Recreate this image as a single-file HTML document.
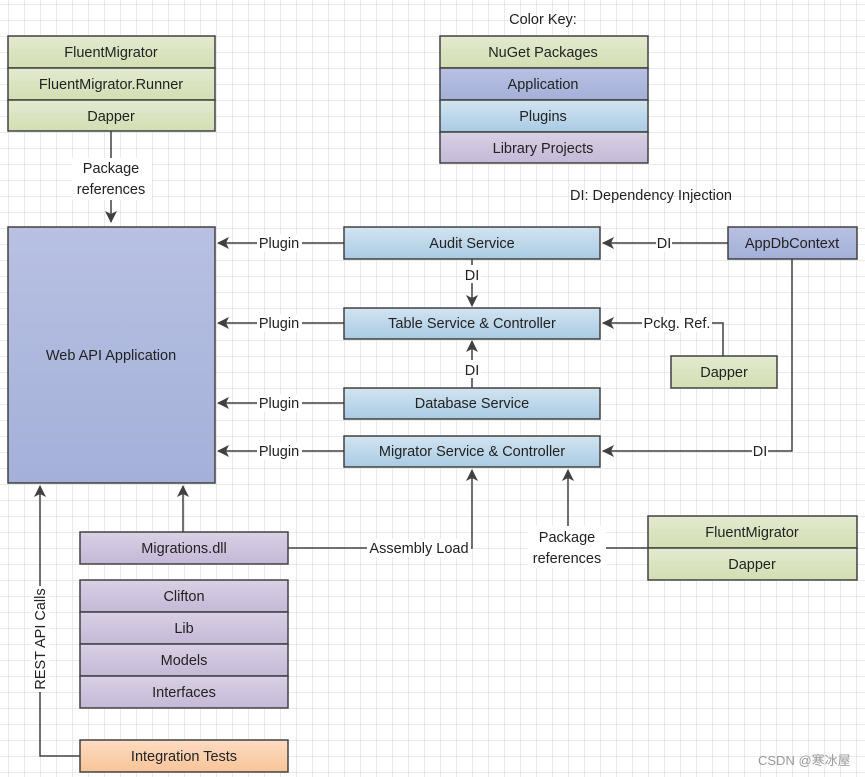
<!DOCTYPE html>
<html><head><meta charset="utf-8"><style>
html,body{margin:0;padding:0;background:#fff}
svg{display:block}
text{font-family:"Liberation Sans","Noto Sans CJK SC",sans-serif;font-size:14.5px;fill:#222}
</style></head><body>
<svg width="865" height="777" viewBox="0 0 865 777" xmlns="http://www.w3.org/2000/svg">
<defs>
<pattern id="g" x="8" y="4" width="16" height="16" patternUnits="userSpaceOnUse">
<path d="M0 0H16M0 0V16" stroke="#d6d6d6" stroke-width="1" fill="none"/>
</pattern>
<linearGradient id="gr" x1="0" y1="0" x2="0" y2="1"><stop offset="0" stop-color="#e3ead0"/><stop offset="1" stop-color="#d2deb2"/></linearGradient>
<linearGradient id="ap" x1="0" y1="0" x2="0" y2="1"><stop offset="0" stop-color="#b8c1e2"/><stop offset="1" stop-color="#a4b0d9"/></linearGradient>
<linearGradient id="pl" x1="0" y1="0" x2="0" y2="1"><stop offset="0" stop-color="#d2e4f1"/><stop offset="1" stop-color="#a9cbe3"/></linearGradient>
<linearGradient id="lb" x1="0" y1="0" x2="0" y2="1"><stop offset="0" stop-color="#d9d1e5"/><stop offset="1" stop-color="#c4b8d7"/></linearGradient>
<linearGradient id="or" x1="0" y1="0" x2="0" y2="1"><stop offset="0" stop-color="#fcdcc2"/><stop offset="1" stop-color="#f8c498"/></linearGradient>
<marker id="a" markerWidth="12" markerHeight="12" refX="11" refY="6" orient="auto" markerUnits="userSpaceOnUse">
<path d="M0 0L12 6L0 12L3 6Z" fill="#404040"/>
</marker>
</defs>
<rect width="865" height="777" fill="url(#g)"/>

<g stroke="#404040" stroke-width="1.5" fill="none">
<path d="M111 131V222" marker-end="url(#a)"/>
<path d="M344 243H218" marker-end="url(#a)"/>
<path d="M344 323H218" marker-end="url(#a)"/>
<path d="M344 403H218" marker-end="url(#a)"/>
<path d="M344 451H218" marker-end="url(#a)"/>
<path d="M728 243H603" marker-end="url(#a)"/>
<path d="M472 259V306" marker-end="url(#a)"/>
<path d="M472 388V341" marker-end="url(#a)"/>
<path d="M723 356V323H603" marker-end="url(#a)"/>
<path d="M792 259V451H603" marker-end="url(#a)"/>
<path d="M288 548H472V470" marker-end="url(#a)"/>
<path d="M648 548H568V470" marker-end="url(#a)"/>
<path d="M183 532V486" marker-end="url(#a)"/>
<path d="M80 756H40V486" marker-end="url(#a)"/>
</g>

<g fill="#fff">
<rect x="72" y="158" width="80" height="42"/>
<rect x="257" y="234" width="45" height="18"/>
<rect x="257" y="314" width="45" height="18"/>
<rect x="257" y="394" width="45" height="18"/>
<rect x="257" y="442" width="45" height="18"/>
<rect x="656" y="234" width="16" height="18"/>
<rect x="463" y="265" width="18" height="18"/>
<rect x="463" y="360" width="18" height="18"/>
<rect x="642" y="314" width="70" height="18"/>
<rect x="752" y="442" width="16" height="18"/>
<rect x="367" y="539" width="104" height="18"/>
<rect x="528" y="526" width="78" height="42"/>
<rect x="31" y="586" width="18" height="106"/>
</g>

<g stroke="#404040" stroke-width="1.5">
<rect x="8" y="36" width="207" height="32" fill="url(#gr)"/>
<rect x="8" y="68" width="207" height="32" fill="url(#gr)"/>
<rect x="8" y="100" width="207" height="31" fill="url(#gr)"/>
<rect x="440" y="36" width="208" height="32" fill="url(#gr)"/>
<rect x="440" y="68" width="208" height="32" fill="url(#ap)"/>
<rect x="440" y="100" width="208" height="32" fill="url(#pl)"/>
<rect x="440" y="132" width="208" height="31" fill="url(#lb)"/>
<rect x="8" y="227" width="207" height="256" fill="url(#ap)"/>
<rect x="344" y="227" width="256" height="32" fill="url(#pl)"/>
<rect x="344" y="308" width="256" height="31" fill="url(#pl)"/>
<rect x="344" y="388" width="256" height="31" fill="url(#pl)"/>
<rect x="344" y="436" width="256" height="31" fill="url(#pl)"/>
<rect x="728" y="227" width="129" height="32" fill="url(#ap)"/>
<rect x="671" y="356" width="106" height="32" fill="url(#gr)"/>
<rect x="80" y="532" width="208" height="32" fill="url(#lb)"/>
<rect x="80" y="580" width="208" height="32" fill="url(#lb)"/>
<rect x="80" y="612" width="208" height="32" fill="url(#lb)"/>
<rect x="80" y="644" width="208" height="32" fill="url(#lb)"/>
<rect x="80" y="676" width="208" height="32" fill="url(#lb)"/>
<rect x="80" y="740" width="208" height="32" fill="url(#or)"/>
<rect x="648" y="516" width="209" height="32" fill="url(#gr)"/>
<rect x="648" y="548" width="209" height="32" fill="url(#gr)"/>
</g>

<g text-anchor="middle">
<text x="111" y="57">FluentMigrator</text>
<text x="111" y="89">FluentMigrator.Runner</text>
<text x="111" y="121">Dapper</text>
<text x="111" y="173">Package</text>
<text x="111" y="194">references</text>
<text x="543" y="24">Color Key:</text>
<text x="543" y="57">NuGet Packages</text>
<text x="543" y="89">Application</text>
<text x="543" y="121">Plugins</text>
<text x="543" y="153">Library Projects</text>
<text x="651" y="200">DI: Dependency Injection</text>
<text x="111" y="360">Web API Application</text>
<text x="279" y="248">Plugin</text>
<text x="279" y="328">Plugin</text>
<text x="279" y="408">Plugin</text>
<text x="279" y="456">Plugin</text>
<text x="472" y="248">Audit Service</text>
<text x="472" y="328">Table Service &amp; Controller</text>
<text x="472" y="408">Database Service</text>
<text x="472" y="456">Migrator Service &amp; Controller</text>
<text x="664" y="248">DI</text>
<text x="472" y="280">DI</text>
<text x="472" y="375">DI</text>
<text x="677" y="328">Pckg. Ref.</text>
<text x="760" y="456">DI</text>
<text x="792" y="248">AppDbContext</text>
<text x="724" y="377">Dapper</text>
<text x="184" y="553">Migrations.dll</text>
<text x="184" y="601">Clifton</text>
<text x="184" y="633">Lib</text>
<text x="184" y="665">Models</text>
<text x="184" y="697">Interfaces</text>
<text x="184" y="761">Integration Tests</text>
<text x="419" y="553">Assembly Load</text>
<text x="567" y="542">Package</text>
<text x="567" y="563">references</text>
<text x="752" y="537">FluentMigrator</text>
<text x="752" y="569">Dapper</text>
<text transform="translate(45 639) rotate(-90)">REST API Calls</text>
</g>
<text x="758" y="765" style="font-size:13px;fill:#999">CSDN @寒冰屋</text>
</svg>
</body></html>
